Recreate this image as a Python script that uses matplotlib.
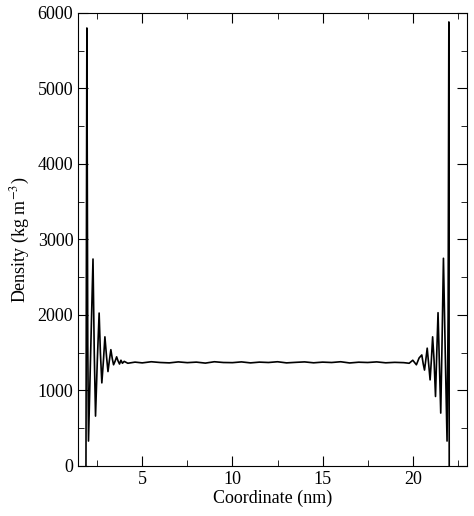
import matplotlib
matplotlib.use('Agg')
import matplotlib.pyplot as plt
from matplotlib.ticker import MultipleLocator

plt.rcParams['font.family'] = ['Liberation Serif', 'DejaVu Serif']
plt.rcParams['mathtext.fontset'] = 'stix'

# density profile (nm, kg m^-3)
coord = [1.88, 1.93, 1.98, 2.02, 2.14, 2.27, 2.34, 2.41, 2.51, 2.61, 2.68, 2.76,
         2.85, 2.93, 3.02, 3.10, 3.18, 3.26, 3.34, 3.41, 3.50, 3.58, 3.66, 3.74,
         3.82, 3.90, 4.0, 4.2, 4.6, 5.0, 5.5, 6.0, 6.5, 7.0, 7.5, 8.0, 8.5, 9.0,
         9.5, 10.0, 10.5, 11.0, 11.5, 12.0, 12.5, 13.0, 13.5, 14.0, 14.5, 15.0,
         15.5, 16.0, 16.5, 17.0, 17.5, 18.0, 18.5, 19.0, 19.5, 19.8, 20.0, 20.2,
         20.35, 20.5, 20.58, 20.65, 20.72, 20.8, 20.88, 20.96, 21.03, 21.1, 21.18,
         21.26, 21.33, 21.4, 21.47, 21.55, 21.62, 21.7, 21.8, 21.9, 21.96, 22.0, 22.02]
density = [0, 5800, 1600, 330, 1500, 2740, 1500, 660, 1400, 2025, 1500, 1100,
           1400, 1710, 1450, 1250, 1400, 1540, 1420, 1340, 1390, 1445, 1390, 1350,
           1400, 1360, 1385, 1360, 1375, 1365, 1380, 1370, 1365, 1378, 1368, 1375,
           1362, 1380, 1370, 1368, 1378, 1365, 1375, 1370, 1380, 1365, 1372, 1378,
           1366, 1375, 1370, 1380, 1364, 1374, 1370, 1378, 1366, 1372, 1368, 1360,
           1400, 1340, 1430, 1470, 1350, 1270, 1400, 1560, 1350, 1140, 1400, 1710,
           1400, 920, 1500, 2030, 1400, 700, 1600, 2750, 1500, 330, 2000, 5880, 0]

fig, ax = plt.subplots(figsize=(4.74, 5.16), dpi=100)
fig.subplots_adjust(left=0.165, right=0.985, bottom=0.097, top=0.975)
ax.plot(coord, density, color='black', lw=1.2)
ax.set_xlim(1.45, 23.0)
ax.set_ylim(0, 6000)
ax.xaxis.set_major_locator(MultipleLocator(5))
ax.xaxis.set_minor_locator(MultipleLocator(2.5))
ax.yaxis.set_major_locator(MultipleLocator(1000))
ax.yaxis.set_minor_locator(MultipleLocator(500))
ax.tick_params(which='both', direction='in', top=True, right=True, labelsize=13)
ax.tick_params(which='major', length=7)
ax.tick_params(which='minor', length=4)
ax.set_xlabel('Coordinate (nm)', fontsize=13, labelpad=1)
ax.set_ylabel('Density (kg m$^{-3}$)', fontsize=13)
fig.savefig('out.png')
